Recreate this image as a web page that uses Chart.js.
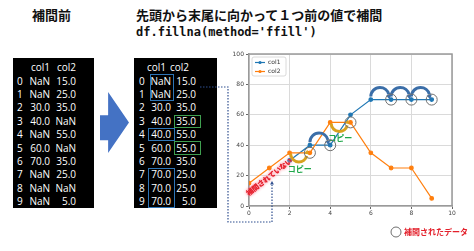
<!DOCTYPE html>
<html>
<head>
<meta charset="utf-8">
<script src="https://cdn.jsdelivr.net/npm/chart.js@4.4.0/dist/chart.umd.min.js"></script>
<style>
  body { margin: 0; background: #fff; width: 474px; height: 251px; overflow: hidden; position: relative; font-family: "Noto Sans CJK JP", sans-serif; }
  .t { position: absolute; white-space: nowrap; }
  .title { font-weight: bold; font-size: 13px; line-height: 16px; color: #111; }
  .code { font-family: "DejaVu Sans Mono", monospace; font-weight: bold; font-size: 12px; line-height: 14px; color: #111; }
  .tbl { position: absolute; background: #000; }
  .cell { position: absolute; color: #fff; font-family: "Open Sans", sans-serif; font-size: 10px; line-height: 13px; white-space: nowrap; }
  .box { position: absolute; border: 1.5px solid #2e75b6; box-sizing: border-box; }
  .box.green { border-color: #3f9f4f; }
  .arrow { position: absolute; left: 100px; top: 92px; width: 29px; height: 61px; background: #4472c4;
           clip-path: polygon(0 38%, 28% 38%, 28% 0, 100% 50%, 28% 100%, 28% 79%, 0 79%); }
  #c { position: absolute; left: 0; top: 0; z-index: 2; }
</style>
</head>
<body>
<div class="t title" style="left:32px;top:7px">補間前</div>
<div class="t title" style="left:136px;top:7px">先頭から末尾に向かって１つ前の値で補間</div>
<div class="t code" style="left:136px;top:25px">df.fillna(method='ffill')</div>
<div class="arrow"></div>
<canvas id="c" width="474" height="251"></canvas>

<script>
// table contents
const headers = ['col1', 'col2'];
const indexValues = [0, 1, 2, 3, 4, 5, 6, 7, 8, 9];
const col1Before = ['NaN', 'NaN', '30.0', '40.0', 'NaN', '60.0', '70.0', 'NaN', 'NaN', 'NaN'];
const col2Before = ['15.0', '25.0', '35.0', 'NaN', '55.0', 'NaN', '35.0', '25.0', 'NaN', '5.0'];
const col1After = ['NaN', 'NaN', '30.0', '40.0', '40.0', '60.0', '70.0', '70.0', '70.0', '70.0'];
const col2After = ['15.0', '25.0', '35.0', '35.0', '55.0', '55.0', '35.0', '25.0', '25.0', '5.0'];

// plotted values (after ffill)
const col1 = [null, null, 30, 40, 40, 60, 70, 70, 70, 70];
const col2 = [15, 25, 35, 35, 55, 55, 35, 25, 25, 5];

// rows marked as interpolated in the figure
const markedCol1 = [4, 7, 8, 9];
const markedCol2 = [3, 5];
const unfilledCol1 = [0, 1];

const xTicks = [0, 2, 4, 6, 8, 10];
const yTicks = [0, 20, 40, 60, 80, 100];

const copyLabel = 'コピー';
const notFilledLabel = '補間されていない';
const noteLabel = '補間されたデータ';

// ---- tables (html) ----
const ROW0 = 81, STEP = 13.4, HEAD_Y = 67;

function addCell(text, x, yc, right) {
    const d = document.createElement('div');
    d.className = 'cell';
    d.textContent = text;
    d.style.top = (yc - 6.5) + 'px';
    if (right) {
        d.style.left = (x - 40) + 'px';
        d.style.width = '40px';
        d.style.textAlign = 'right';
    } else {
        d.style.left = x + 'px';
    }
    document.body.appendChild(d);
}

function makeTable(g, c1, c2) {
    const bg = document.createElement('div');
    bg.className = 'tbl';
    Object.assign(bg.style, { left: g.left + 'px', top: '58px', width: g.width + 'px', height: '150px' });
    document.body.appendChild(bg);
    addCell(headers[0], g.h1, HEAD_Y, true);
    addCell(headers[1], g.h2, HEAD_Y, true);
    indexValues.forEach((idx, i) => {
        const yc = ROW0 + i * STEP;
        addCell(String(idx), g.idx, yc, false);
        addCell(c1[i], g.c1, yc, true);
        addCell(c2[i], g.c2, yc, true);
    });
}

function addBox(x1, x2, r1, r2, green) {
    const d = document.createElement('div');
    d.className = green ? 'box green' : 'box';
    const top = ROW0 + r1 * STEP - 6.7;
    const bottom = ROW0 + r2 * STEP + 6.7;
    Object.assign(d.style, { left: x1 + 'px', top: top + 'px', width: (x2 - x1) + 'px', height: (bottom - top) + 'px', zIndex: 1 });
    document.body.appendChild(d);
}

makeTable({ left: 13, width: 81, idx: 17, c1: 50, c2: 76, h1: 50, h2: 76 }, col1Before, col2Before);
makeTable({ left: 134, width: 83, idx: 139, c1: 171, c2: 196, h1: 166, h2: 189 }, col1After, col2After);

// boxes around filled cells, grouped into consecutive runs
function runs(list) {
    const out = [];
    list.forEach(i => {
        const last = out[out.length - 1];
        if (last && last[1] === i - 1) last[1] = i; else out.push([i, i]);
    });
    return out;
}
runs(unfilledCol1).forEach(r => addBox(150, 174, r[0], r[1], false));
runs(markedCol1).forEach(r => addBox(148, 175, r[0], r[1], false));
markedCol2.forEach(i => addBox(174, 201, i, i, true));

// ---- chart ----
function arrowHead(ctx, x, y, ang, size) {
    ctx.beginPath();
    ctx.moveTo(x, y);
    ctx.lineTo(x - size * Math.cos(ang - 0.5), y - size * Math.sin(ang - 0.5));
    ctx.lineTo(x - size * Math.cos(ang + 0.5), y - size * Math.sin(ang + 0.5));
    ctx.closePath();
    ctx.fill();
}

const overlay = {
    id: 'overlay',
    afterDraw(chart) {
        const { ctx, chartArea: a, scales: { x, y } } = chart;
        ctx.save();

        // top and right spines
        ctx.strokeStyle = '#9a9a9a';
        ctx.lineWidth = 1.5;
        ctx.beginPath();
        ctx.moveTo(a.left, a.top);
        ctx.lineTo(a.right, a.top);
        ctx.lineTo(a.right, a.bottom);
        ctx.stroke();

        // legend inside plot
        ctx.fillStyle = 'rgba(255,255,255,0.9)';
        ctx.strokeStyle = '#d0d0d0';
        ctx.lineWidth = 0.8;
        ctx.beginPath();
        ctx.roundRect(a.left + 3, a.top + 3, 34, 19, 2);
        ctx.fill();
        ctx.stroke();
        [['col1', '#1f77b4'], ['col2', '#ff7f0e']].forEach(([lab, col], k) => {
            const yy = a.top + 8.5 + k * 9;
            ctx.strokeStyle = col;
            ctx.fillStyle = col;
            ctx.lineWidth = 1.2;
            ctx.beginPath();
            ctx.moveTo(a.left + 6, yy);
            ctx.lineTo(a.left + 16, yy);
            ctx.stroke();
            ctx.beginPath();
            ctx.arc(a.left + 11, yy, 1.6, 0, Math.PI * 2);
            ctx.fill();
            ctx.fillStyle = '#333';
            ctx.font = '6px "DejaVu Sans"';
            ctx.textBaseline = 'middle';
            ctx.fillText(lab, a.left + 19, yy);
        });

        // copy arcs for col2 (below, golden)
        ctx.lineWidth = 3;
        markedCol2.forEach(i => {
            const x1 = x.getPixelForValue(i - 1) + 1;
            const x2 = x.getPixelForValue(i) - 3;
            const by = y.getPixelForValue(col2[i]) + 1;
            const r = (x2 - x1) / 2;
            ctx.strokeStyle = '#d9a21f';
            ctx.fillStyle = '#d9a21f';
            ctx.beginPath();
            ctx.arc(x1 + r, by, r, Math.PI, 0.25, true);
            ctx.stroke();
            arrowHead(ctx, x2 + 0.5, by - 4, -Math.PI / 2 + 0.2, 5);
            ctx.fillStyle = '#1fa84a';
            ctx.font = 'bold 8px "Noto Sans CJK JP"';
            ctx.textAlign = 'center';
            ctx.textBaseline = 'middle';
            ctx.fillText(copyLabel, (x1 + x2) / 2 + 1, by + 15);
        });

        // copy arcs for col1 (above, blue)
        markedCol1.forEach(i => {
            const x1 = x.getPixelForValue(i - 1);
            const x2 = x.getPixelForValue(i) - 2;
            const by = y.getPixelForValue(col1[i]) - 3;
            const r = (x2 - x1) / 2;
            ctx.strokeStyle = '#3b6ea8';
            ctx.fillStyle = '#3b6ea8';
            ctx.lineWidth = 3;
            ctx.beginPath();
            ctx.arc(x1 + r, by, r, Math.PI, -0.25, false);
            ctx.stroke();
            arrowHead(ctx, x2 + 0.5, by + 3, Math.PI / 2 - 0.2, 5.5);
        });

        // circles around filled points
        ctx.strokeStyle = '#6e6e6e';
        ctx.lineWidth = 1;
        markedCol1.forEach(i => {
            ctx.beginPath();
            ctx.arc(x.getPixelForValue(i), y.getPixelForValue(col1[i]), 5.5, 0, Math.PI * 2);
            ctx.stroke();
        });
        markedCol2.forEach(i => {
            ctx.beginPath();
            ctx.arc(x.getPixelForValue(i), y.getPixelForValue(col2[i]), 5.5, 0, Math.PI * 2);
            ctx.stroke();
        });

        // "not interpolated" label
        ctx.save();
        ctx.translate(a.left - 2, a.bottom - 12);
        ctx.rotate(-38 * Math.PI / 180);
        ctx.font = 'bold 7px "Noto Sans CJK JP"';
        ctx.textAlign = 'left';
        ctx.textBaseline = 'middle';
        ctx.shadowColor = 'rgba(255,110,130,0.9)';
        ctx.shadowBlur = 3;
        ctx.fillStyle = '#e3202b';
        ctx.fillText(notFilledLabel, 0, 0);
        ctx.fillText(notFilledLabel, 0, 0);
        ctx.restore();

        // dotted connector from the NaN cells
        ctx.strokeStyle = '#2f4f8f';
        ctx.fillStyle = '#2f4f8f';
        ctx.lineWidth = 1.2;
        ctx.setLineDash([1.5, 1.5]);
        ctx.beginPath();
        ctx.moveTo(200, 87);
        ctx.lineTo(228, 87);
        ctx.lineTo(228, 222);
        ctx.lineTo(272, 222);
        ctx.lineTo(272, 185);
        ctx.stroke();
        ctx.setLineDash([]);
        arrowHead(ctx, 272, 181, -Math.PI / 2, 4);

        // note bottom right
        ctx.strokeStyle = '#6e6e6e';
        ctx.lineWidth = 1;
        ctx.beginPath();
        ctx.arc(396, 232, 5, 0, Math.PI * 2);
        ctx.stroke();
        ctx.fillStyle = '#e3202b';
        ctx.font = 'bold 8px "Noto Sans CJK JP"';
        ctx.textAlign = 'left';
        ctx.textBaseline = 'middle';
        ctx.fillText(noteLabel, 404, 232);

        ctx.restore();
    }
};

const tickFont = { size: 6, family: 'DejaVu Sans' };

new Chart(document.getElementById('c'), {
    type: 'line',
    data: {
        datasets: [
            {
                label: 'col1',
                data: indexValues.map((v, i) => ({ x: v, y: col1[i] })),
                borderColor: '#1f77b4',
                backgroundColor: '#1f77b4',
                borderWidth: 1.2,
                pointRadius: 1.8,
                pointHoverRadius: 1.8,
                order: 1
            },
            {
                label: 'col2',
                data: indexValues.map((v, i) => ({ x: v, y: col2[i] })),
                borderColor: '#ff7f0e',
                backgroundColor: '#ff7f0e',
                borderWidth: 1.2,
                pointRadius: 1.8,
                pointHoverRadius: 1.8,
                order: 0
            }
        ]
    },
    options: {
        responsive: false,
        animation: false,
        devicePixelRatio: 1,
        layout: { padding: { left: 219, top: 54, right: 22, bottom: 25 } },
        plugins: { legend: { display: false }, tooltip: { enabled: false } },
        scales: {
            x: {
                type: 'linear',
                min: xTicks[0],
                max: xTicks[xTicks.length - 1],
                afterBuildTicks: axis => { axis.ticks = xTicks.map(v => ({ value: v })); },
                ticks: { font: tickFont, color: '#444', padding: 1, maxRotation: 0 },
                grid: { color: '#dadada', tickLength: 3, tickColor: '#666' },
                border: { color: '#9a9a9a', width: 1.5 },
                afterFit: axis => { axis.height = 20; }
            },
            y: {
                min: yTicks[0],
                max: yTicks[yTicks.length - 1],
                afterBuildTicks: axis => { axis.ticks = yTicks.map(v => ({ value: v })); },
                ticks: { font: tickFont, color: '#444', padding: 2 },
                grid: { color: '#dadada', tickLength: 3, tickColor: '#666' },
                border: { color: '#9a9a9a', width: 1.5 },
                afterFit: axis => { axis.width = 30; }
            }
        }
    },
    plugins: [overlay]
});
</script>
</body>
</html>
